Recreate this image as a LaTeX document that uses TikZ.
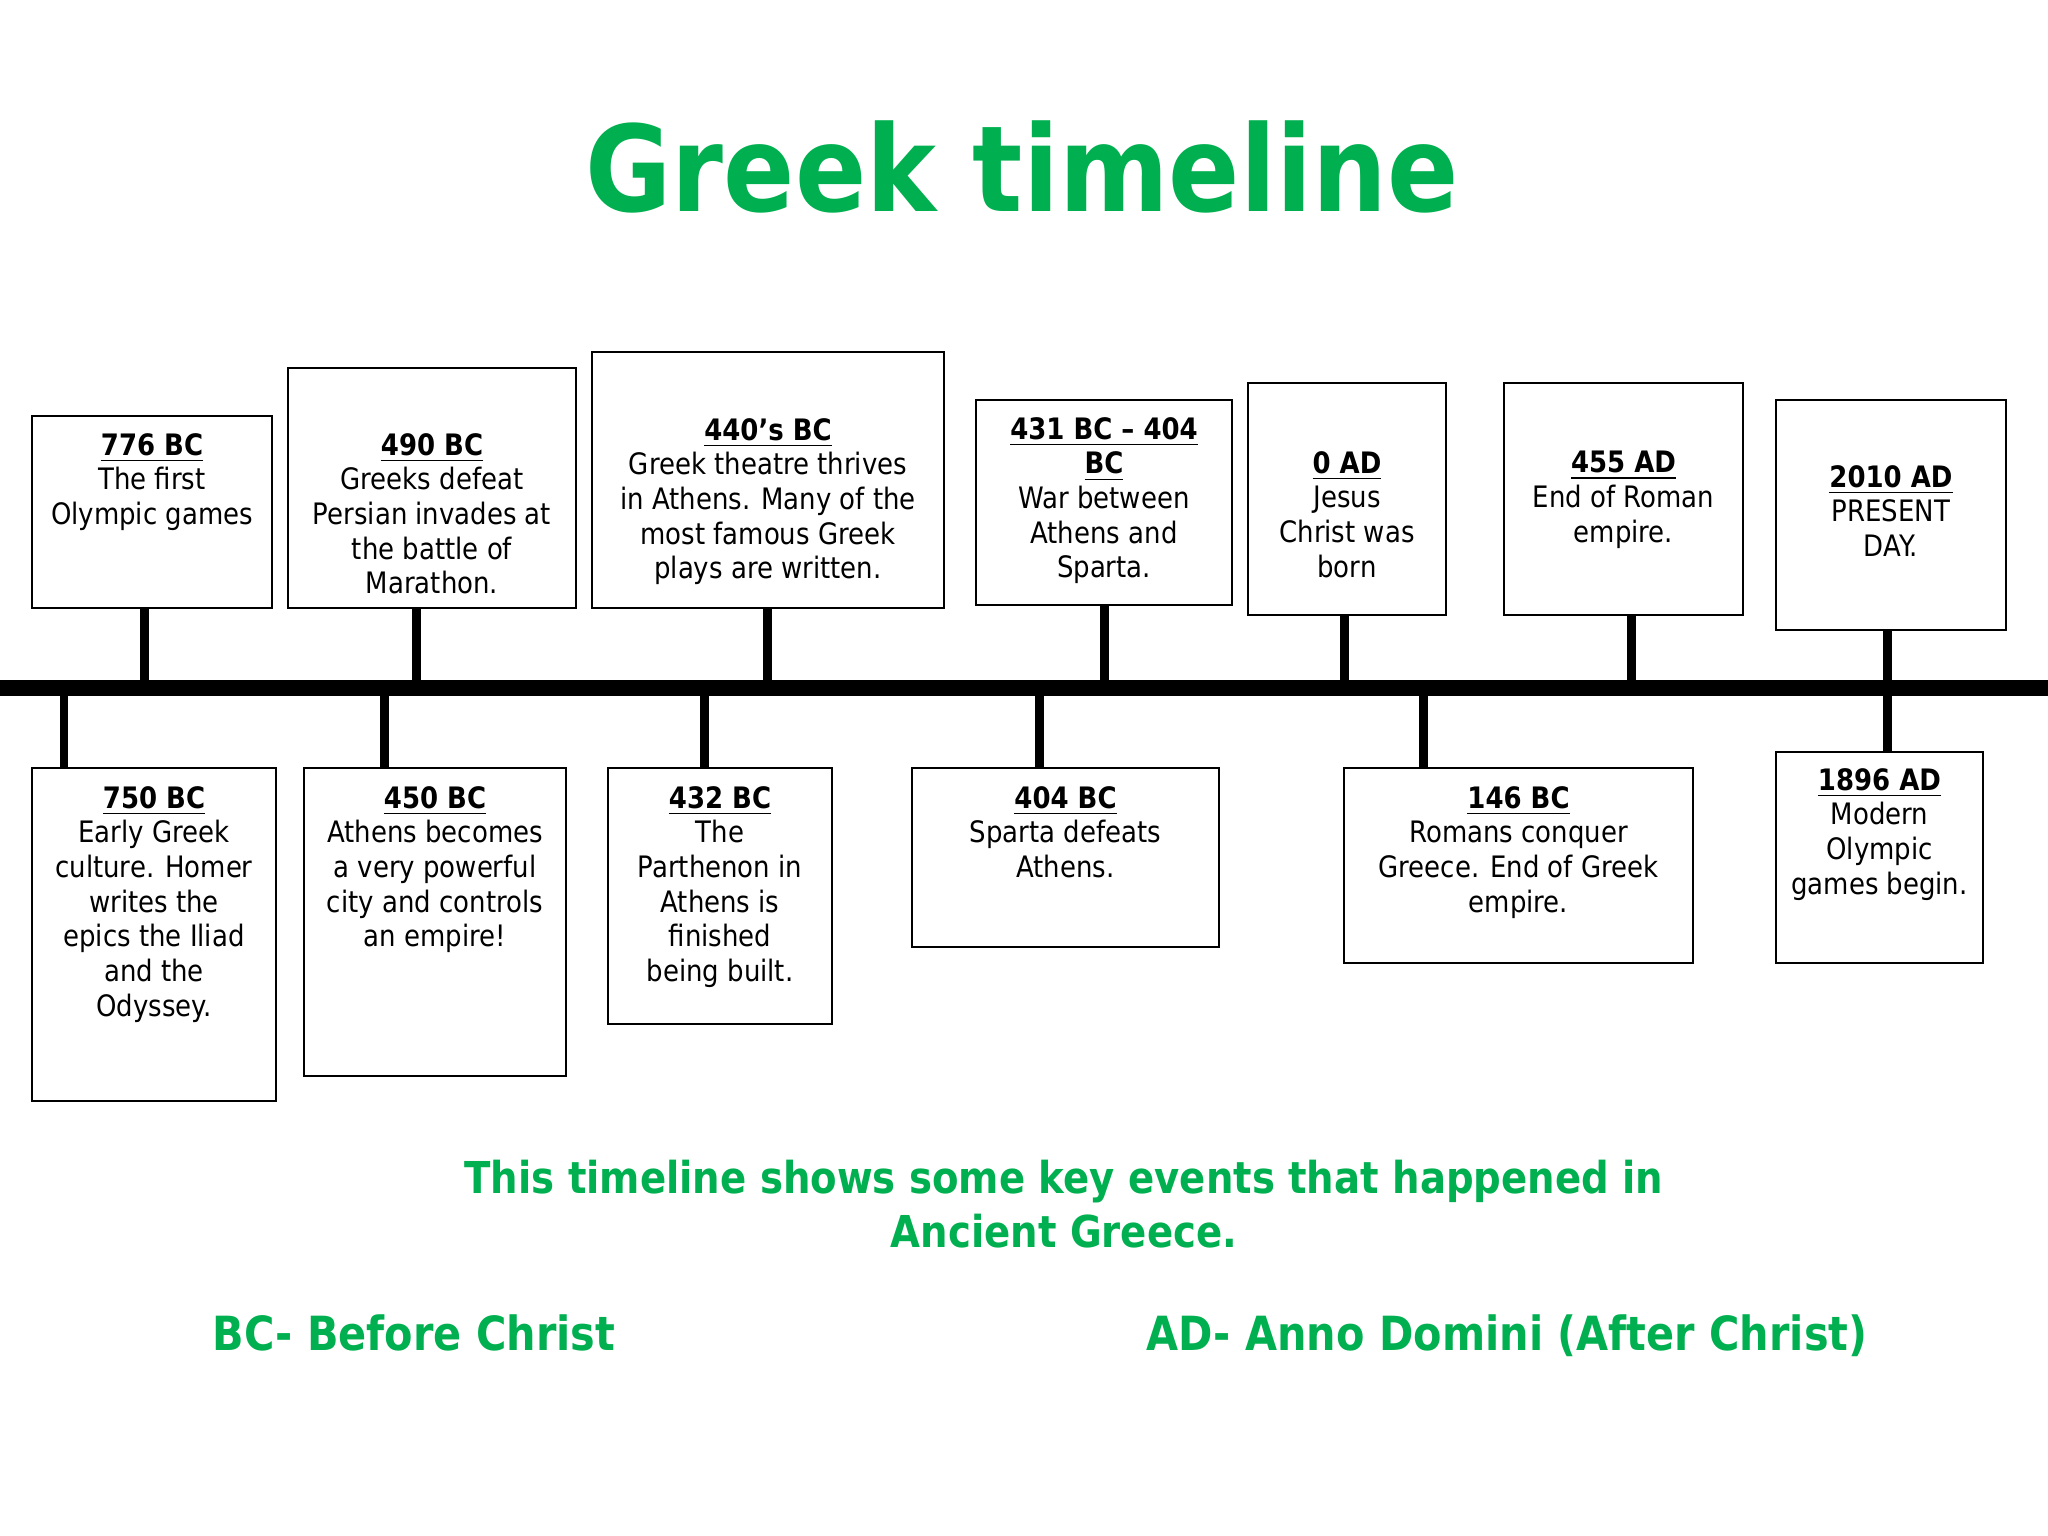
\documentclass[tikz,border=0pt]{standalone}
\usepackage{fontspec}
\setmainfont{DejaVu Sans}[FakeStretch=0.88]
\usepackage{xcolor}
\usepackage{tikz}
\usetikzlibrary{positioning}
\definecolor{titlegreen}{RGB}{0,176,80}
\newcommand{\evyear}[1]{\underline{\textbf{#1}}}

\begin{document}
\begin{tikzpicture}[
    evbox/.style  ={draw=black, line width=0.8pt, fill=white, inner sep=0pt},
    evtext/.style ={align=center, anchor=north, inner sep=0pt, font=\fontsize{8.4}{9.87}\selectfont},
    stem/.style   ={line width=0.09cm, black},
    spine/.style  ={line width=0.16cm, black},
    note/.style   ={text=titlegreen, inner sep=0pt, font=\bfseries\fontsize{12.5}{15.6}\selectfont},
  ]
  \path[use as bounding box, fill=white] (0,0) rectangle (20.48,-15.36);
  % title
  \node[note, anchor=base, font=\bfseries\fontsize{34}{40}\selectfont] (title) at (10.22,-2.12) {Greek timeline};
  % points on the spine where the stems meet it
  \coordinate (spine-l) at (0,-6.88);
  \coordinate (spine-r) at (20.48,-6.88);
  \coordinate (s776)  at (1.44,-6.88);
  \coordinate (s490)  at (4.16,-6.88);
  \coordinate (s440)  at (7.67,-6.88);
  \coordinate (s431)  at (11.04,-6.88);
  \coordinate (s0)    at (13.44,-6.88);
  \coordinate (s455)  at (16.31,-6.88);
  \coordinate (s2010) at (18.87,-6.88);
  \coordinate (s750)  at (0.64,-6.88);
  \coordinate (s450)  at (3.84,-6.88);
  \coordinate (s432)  at (7.04,-6.88);
  \coordinate (s404)  at (10.39,-6.88);
  \coordinate (s146)  at (14.23,-6.88);
  % upper row of events
  \node[evbox, minimum width=2.40cm, minimum height=1.92cm] (b776)  at (1.52,-5.12)   {};
  \node[evbox, minimum width=2.88cm, minimum height=2.40cm] (b490)  at (4.32,-4.88)   {};
  \node[evbox, minimum width=3.52cm, minimum height=2.56cm] (b440)  at (7.68,-4.80)   {};
  \node[evbox, minimum width=2.56cm, minimum height=2.05cm] (b431)  at (11.04,-5.025) {};
  \node[evbox, minimum width=1.98cm, minimum height=2.32cm] (b0)    at (13.47,-4.99)  {};
  \node[evbox, minimum width=2.39cm, minimum height=2.32cm] (b455)  at (16.235,-4.99) {};
  \node[evbox, minimum width=2.30cm, minimum height=2.30cm] (b2010) at (18.91,-5.15)  {};
  % lower row of events
  \node[evbox, minimum width=2.44cm, minimum height=3.33cm] (b750)  at (1.54,-9.345)  {};
  \node[evbox, minimum width=2.62cm, minimum height=3.08cm] (b450)  at (4.35,-9.22)   {};
  \node[evbox, minimum width=2.24cm, minimum height=2.56cm] (b432)  at (7.20,-8.96)   {};
  \node[evbox, minimum width=3.07cm, minimum height=1.79cm] (b404)  at (10.655,-8.575) {};
  \node[evbox, minimum width=3.49cm, minimum height=1.95cm] (b146)  at (15.185,-8.655) {};
  \node[evbox, minimum width=2.07cm, minimum height=2.11cm] (b1896) at (18.795,-8.575) {};
  % texts
  \node[evtext, below=0.18cm of b776.north]  (t776)  {\evyear{776 BC}\\The first\\Olympic games};
  \node[evtext, below=0.66cm of b490.north]  (t490)  {\evyear{490 BC}\\Greeks defeat\\Persian invades at\\the battle of\\Marathon.};
  \node[evtext, below=0.67cm of b440.north]  (t440)  {\evyear{440’s BC}\\Greek theatre thrives\\in Athens. Many of the\\most famous Greek\\plays are written.};
  \node[evtext, below=0.18cm of b431.north]  (t431)  {\evyear{431 BC – 404}\\\evyear{BC}\\War between\\Athens and\\Sparta.};
  \node[evtext, below=0.69cm of b0.north]    (t0)    {\evyear{0 AD}\\Jesus\\Christ was\\born};
  \node[evtext, below=0.69cm of b455.north]  (t455)  {\evyear{455 AD}\\End of Roman\\empire.};
  \node[evtext, below=0.66cm of b2010.north] (t2010) {\evyear{2010 AD}\\PRESENT\\DAY.};
  \node[evtext, below=0.19cm of b750.north]  (t750)  {\evyear{750 BC}\\Early Greek\\culture. Homer\\writes the\\epics the Iliad\\and the\\Odyssey.};
  \node[evtext, below=0.19cm of b450.north]  (t450)  {\evyear{450 BC}\\Athens becomes\\a very powerful\\city and controls\\an empire!};
  \node[evtext, below=0.19cm of b432.north]  (t432)  {\evyear{432 BC}\\The\\Parthenon in\\Athens is\\finished\\being built.};
  \node[evtext, below=0.19cm of b404.north]  (t404)  {\evyear{404 BC}\\Sparta defeats\\Athens.};
  \node[evtext, below=0.19cm of b146.north]  (t146)  {\evyear{146 BC}\\Romans conquer\\Greece. End of Greek\\empire.};
  \node[evtext, below=0.17cm of b1896.north] (t1896) {\evyear{1896 AD}\\Modern\\Olympic\\games begin.};
  % stems up to the boxes above
  \draw[stem] (b776.south -| s776)   -- (s776);
  \draw[stem] (b490.south -| s490)   -- (s490);
  \draw[stem] (b440.south -| s440)   -- (s440);
  \draw[stem] (b431.south -| s431)   -- (s431);
  \draw[stem] (b0.south -| s0)       -- (s0);
  \draw[stem] (b455.south -| s455)   -- (s455);
  % 2010 and 1896 share one stem through the spine
  \draw[stem] (b2010.south -| s2010) -- (b1896.north -| s2010);
  % stems down to the boxes below
  \draw[stem] (s750) -- (b750.north -| s750);
  \draw[stem] (s450) -- (b450.north -| s450);
  \draw[stem] (s432) -- (b432.north -| s432);
  \draw[stem] (s404) -- (b404.north -| s404);
  \draw[stem] (s146) -- (b146.north -| s146);
  % the spine
  \draw[spine] (spine-l) -- (spine-r);
  % notes
  \node[note, align=center, anchor=north] (about) at (10.64,-11.59) {This timeline shows some key events that happened in\\Ancient Greece.};
  \node[note, anchor=base, font=\bfseries\fontsize{13.4}{16}\selectfont] (bc) at (4.14,-13.50)  {BC- Before Christ};
  \node[note, anchor=base, font=\bfseries\fontsize{13.4}{16}\selectfont] (ad) at (15.07,-13.50) {AD- Anno Domini (After Christ)};
\end{tikzpicture}
\end{document}
